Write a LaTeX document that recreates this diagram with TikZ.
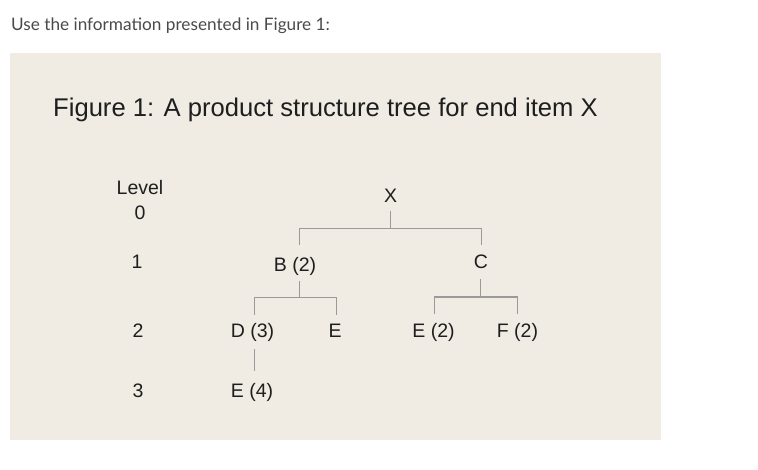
\documentclass[tikz,border=0pt]{standalone}
\usepackage{fontspec}
\setmainfont{Liberation Sans}
\newfontfamily\latofont{Lato}
\definecolor{bgbeige}{HTML}{F0ECE3}
\definecolor{hdrgrey}{HTML}{4A4A4A}
\definecolor{txtdark}{HTML}{1E1E1E}
\definecolor{lngrey}{HTML}{9A9A9A}
\begin{document}
\begin{tikzpicture}[x=1pt,y=-1pt,
  lbl/.style={inner sep=0pt,anchor=base,text=txtdark,font=\fontsize{19.5}{22}\selectfont},
  ln/.style={draw=lngrey,line width=1.2pt}]
\useasboundingbox (0,0) rectangle (758,470);
\fill[white] (0,0) rectangle (758,470);
\node[inner sep=0pt,anchor=base west,text=hdrgrey,font=\latofont\fontsize{17.2}{20}\selectfont] (hdr) at (11,31) {Use the information presented in Figure 1:};
\fill[bgbeige] (10,53) rectangle (661,440);
\node[inner sep=0pt,anchor=base west,text=txtdark,font=\fontsize{25.6}{30}\selectfont] (title) at (53,117) {Figure 1: A product structure tree for end item X};
% level column
\node[lbl] (lv) at (140,195) {Level};
\node[lbl] (l0) at (140,220) {0};
\node[lbl] (l1) at (137,269) {1};
\node[lbl] (l2) at (138,338) {2};
\node[lbl] (l3) at (138,397) {3};
% items
\node[lbl] (X) at (390.5,203) {X};
\node[lbl] (B) at (295,271.5) {B (2)};
\node[lbl] (C) at (481,269) {C};
\node[lbl] (D) at (252.5,338) {D (3)};
\node[lbl] (E1) at (335,338) {E};
\node[lbl] (E2) at (433.5,337.5) {E (2)};
\node[lbl] (F) at (517.5,337.5) {F (2)};
\node[lbl] (E4) at (252,397.5) {E (4)};
% connector points
\coordinate (x1) at (390.7,210.7);
\coordinate (x2) at (390.7,228.3);
\coordinate (b0) at (299.3,245);
\coordinate (c0) at (481.8,245);
\coordinate (b1) at (299.3,281);
\coordinate (b2) at (299.3,297.3);
\coordinate (d0) at (254.3,315);
\coordinate (e0) at (336.5,315);
\coordinate (c1) at (480.8,279);
\coordinate (c2) at (480.8,297);
\coordinate (e20) at (434.7,314);
\coordinate (f0) at (517.2,314);
\coordinate (d1) at (254.3,349.3);
\coordinate (d2) at (254.3,370.7);
\draw[ln] (x1) -- (x2);
\draw[ln] (b0) |- (x2) -| (c0);
\draw[ln] (b1) -- (b2);
\draw[ln] (d0) |- (b2) -| (e0);
\draw[ln] (c1) -- (c2);
\draw[ln] (e20) |- (c2) -| (f0);
\draw[ln] (d1) -- (d2);
\end{tikzpicture}
\end{document}
